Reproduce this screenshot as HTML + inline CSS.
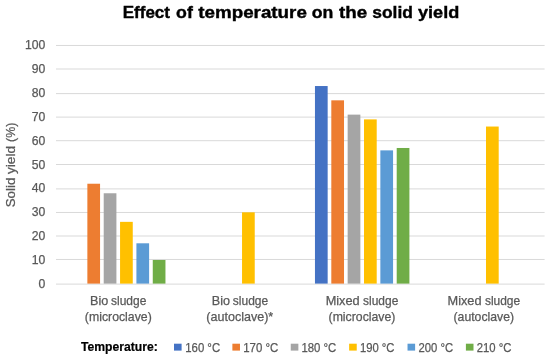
<!DOCTYPE html>
<html><head><meta charset="utf-8"><style>
html,body{margin:0;padding:0;background:#fff;width:550px;height:357px;overflow:hidden}
svg{display:block}
text{font-family:"Liberation Sans",sans-serif}
.ax{font-size:12.2px;fill:#595959;stroke:#595959;stroke-width:0.25px}
.ax2{font-size:13.4px}
.title{font-size:17.4px;font-weight:bold;fill:#000;stroke:#000;stroke-width:0.4px}
.leg{font-size:12px;font-weight:bold;fill:#000;stroke:#000;stroke-width:0.2px}
</style></head><body>
<svg width="550" height="357" viewBox="0 0 550 357">
<rect width="550" height="357" fill="#fff"/>
<rect x="56" y="283.60" width="488.6" height="1" fill="#d9d9d9"/>
<rect x="56" y="258.96" width="488.6" height="1" fill="#d9d9d9"/>
<rect x="56" y="235.50" width="488.6" height="1" fill="#d9d9d9"/>
<rect x="56" y="211.96" width="488.6" height="1" fill="#d9d9d9"/>
<rect x="56" y="188.40" width="488.6" height="1" fill="#d9d9d9"/>
<rect x="56" y="164.00" width="488.6" height="1" fill="#d9d9d9"/>
<rect x="56" y="140.20" width="488.6" height="1" fill="#d9d9d9"/>
<rect x="56" y="116.60" width="488.6" height="1" fill="#d9d9d9"/>
<rect x="56" y="93.10" width="488.6" height="1" fill="#d9d9d9"/>
<rect x="56" y="68.50" width="488.6" height="1" fill="#d9d9d9"/>
<rect x="56" y="44.96" width="488.6" height="1" fill="#d9d9d9"/>
<rect x="87.36" y="183.73" width="12.7" height="99.87" fill="#ED7D31"/>
<rect x="103.71" y="193.26" width="12.7" height="90.34" fill="#A5A5A5"/>
<rect x="120.06" y="221.85" width="12.7" height="61.75" fill="#FFC000"/>
<rect x="136.41" y="243.30" width="12.7" height="40.30" fill="#5B9BD5"/>
<rect x="152.76" y="259.98" width="12.7" height="23.62" fill="#70AD47"/>
<rect x="242.04" y="212.32" width="12.7" height="71.28" fill="#FFC000"/>
<rect x="314.96" y="86.03" width="12.7" height="197.57" fill="#4472C4"/>
<rect x="331.31" y="100.33" width="12.7" height="183.27" fill="#ED7D31"/>
<rect x="347.66" y="114.62" width="12.7" height="168.98" fill="#A5A5A5"/>
<rect x="364.01" y="119.39" width="12.7" height="164.21" fill="#FFC000"/>
<rect x="380.36" y="150.37" width="12.7" height="133.23" fill="#5B9BD5"/>
<rect x="396.71" y="147.98" width="12.7" height="135.62" fill="#70AD47"/>
<rect x="486.00" y="126.54" width="12.7" height="157.06" fill="#FFC000"/>
<text x="45.3" y="288.00" text-anchor="end" class="ax">0</text>
<text x="45.3" y="264.00" text-anchor="end" class="ax">10</text>
<text x="45.3" y="240.00" text-anchor="end" class="ax">20</text>
<text x="45.3" y="216.00" text-anchor="end" class="ax">30</text>
<text x="45.3" y="192.00" text-anchor="end" class="ax">40</text>
<text x="45.3" y="169.00" text-anchor="end" class="ax">50</text>
<text x="45.3" y="145.00" text-anchor="end" class="ax">60</text>
<text x="45.3" y="121.00" text-anchor="end" class="ax">70</text>
<text x="45.3" y="97.00" text-anchor="end" class="ax">80</text>
<text x="45.3" y="73.00" text-anchor="end" class="ax">90</text>
<text x="45.3" y="49.00" text-anchor="end" class="ax">100</text>
<text transform="translate(15.3,0) rotate(-90)" x="-207.28" y="0" class="ax" textLength="29.61" lengthAdjust="spacingAndGlyphs">Solid</text>
<text transform="translate(15.3,0) rotate(-90)" x="-174.11" y="0" class="ax" textLength="28.26" lengthAdjust="spacingAndGlyphs">yield</text>
<text transform="translate(15.3,0) rotate(-90)" x="-141.95" y="0" class="ax ax2" textLength="19.30" lengthAdjust="spacingAndGlyphs">(%)</text>
<text x="122.68" y="18.20" class="title" textLength="47.34" lengthAdjust="spacingAndGlyphs">Effect</text>
<text x="176.11" y="18.20" class="title" textLength="16.75" lengthAdjust="spacingAndGlyphs">of</text>
<text x="198.27" y="18.20" class="title" textLength="108.56" lengthAdjust="spacingAndGlyphs">temperature</text>
<text x="311.71" y="18.20" class="title" textLength="21.58" lengthAdjust="spacingAndGlyphs">on</text>
<text x="338.97" y="18.20" class="title" textLength="28.16" lengthAdjust="spacingAndGlyphs">the</text>
<text x="372.29" y="18.20" class="title" textLength="40.65" lengthAdjust="spacingAndGlyphs">solid</text>
<text x="417.97" y="18.20" class="title" textLength="41.32" lengthAdjust="spacingAndGlyphs">yield</text>
<text x="89.99" y="304.90" class="ax" textLength="18.21" lengthAdjust="spacingAndGlyphs">Bio</text>
<text x="111.00" y="304.90" class="ax" textLength="35.31" lengthAdjust="spacingAndGlyphs">sludge</text>
<text x="84.86" y="320.60" class="ax" textLength="66.88" lengthAdjust="spacingAndGlyphs">(microclave)</text>
<text x="211.84" y="304.90" class="ax" textLength="18.21" lengthAdjust="spacingAndGlyphs">Bio</text>
<text x="232.85" y="304.90" class="ax" textLength="35.31" lengthAdjust="spacingAndGlyphs">sludge</text>
<text x="206.34" y="320.60" class="ax" textLength="66.93" lengthAdjust="spacingAndGlyphs">(autoclave)*</text>
<text x="325.67" y="304.90" class="ax" textLength="34.03" lengthAdjust="spacingAndGlyphs">Mixed</text>
<text x="363.10" y="304.90" class="ax" textLength="35.21" lengthAdjust="spacingAndGlyphs">sludge</text>
<text x="328.56" y="320.60" class="ax" textLength="66.88" lengthAdjust="spacingAndGlyphs">(microclave)</text>
<text x="447.52" y="304.90" class="ax" textLength="34.03" lengthAdjust="spacingAndGlyphs">Mixed</text>
<text x="484.95" y="304.90" class="ax" textLength="35.21" lengthAdjust="spacingAndGlyphs">sludge</text>
<text x="453.56" y="320.60" class="ax" textLength="60.47" lengthAdjust="spacingAndGlyphs">(autoclave)</text>
<text x="80.97" y="350.60" class="leg" textLength="76.81" lengthAdjust="spacingAndGlyphs">Temperature:</text>
<rect x="174.00" y="343.7" width="7.6" height="6.9" fill="#4472C4"/>
<text x="185.26" y="351.50" class="ax" textLength="34.85" lengthAdjust="spacingAndGlyphs">160 °C</text>
<rect x="232.38" y="343.7" width="7.6" height="6.9" fill="#ED7D31"/>
<text x="243.25" y="351.50" class="ax" textLength="35.06" lengthAdjust="spacingAndGlyphs">170 °C</text>
<rect x="290.76" y="343.7" width="7.6" height="6.9" fill="#A5A5A5"/>
<text x="301.46" y="351.50" class="ax" textLength="34.85" lengthAdjust="spacingAndGlyphs">180 °C</text>
<rect x="349.14" y="343.7" width="7.6" height="6.9" fill="#FFC000"/>
<text x="359.96" y="351.50" class="ax" textLength="34.54" lengthAdjust="spacingAndGlyphs">190 °C</text>
<rect x="407.52" y="343.7" width="7.6" height="6.9" fill="#5B9BD5"/>
<text x="418.56" y="351.50" class="ax" textLength="34.54" lengthAdjust="spacingAndGlyphs">200 °C</text>
<rect x="465.90" y="343.7" width="7.6" height="6.9" fill="#70AD47"/>
<text x="476.65" y="351.50" class="ax" textLength="34.75" lengthAdjust="spacingAndGlyphs">210 °C</text>
</svg>
</body></html>
